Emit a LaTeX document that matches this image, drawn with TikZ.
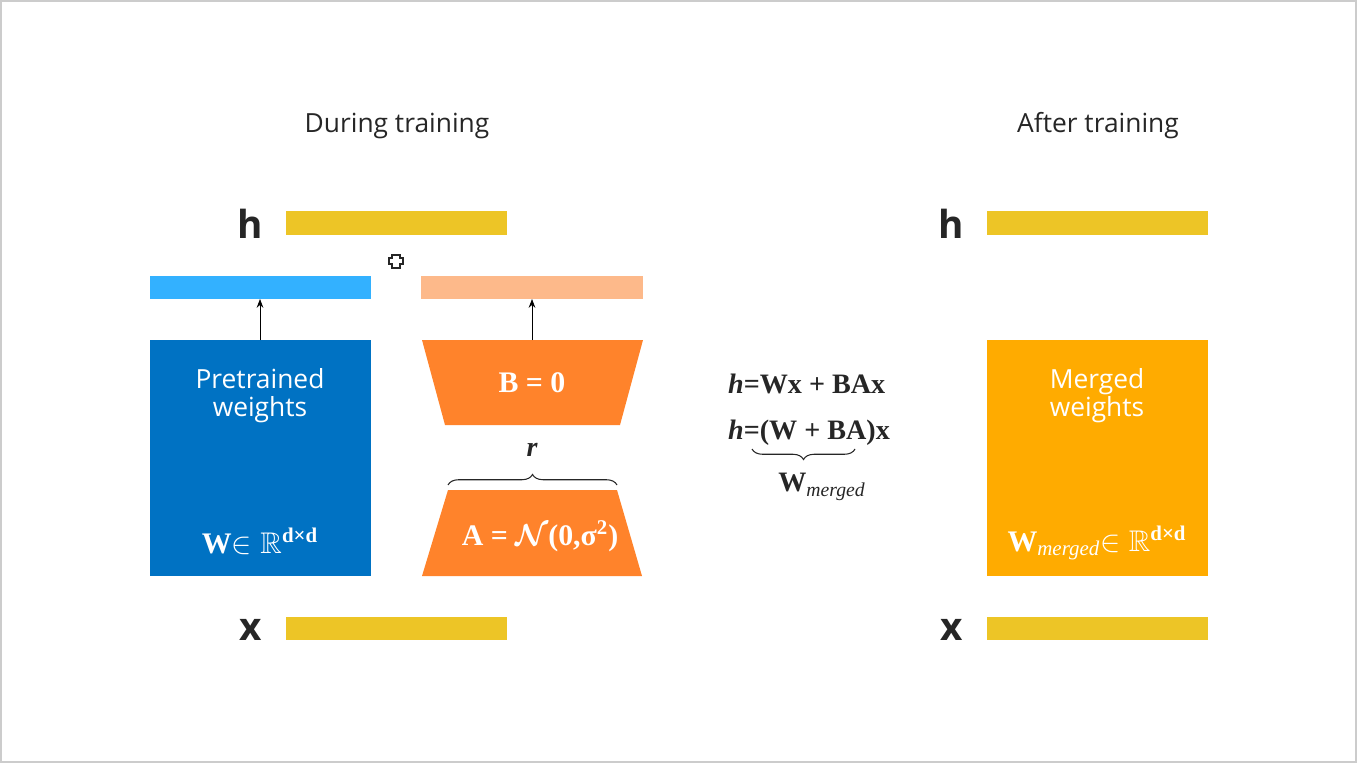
\documentclass[tikz,border=0pt]{standalone}
\usepackage{amsmath,amssymb,bm}
\usepackage{fontspec}
\setmainfont{Open Sans}
\newfontfamily\sfb{Liberation Serif}
\usetikzlibrary{decorations.pathreplacing,arrows.meta}
\definecolor{hbarcol}{HTML}{EDC526}
\definecolor{lblue}{HTML}{33B1FF}
\definecolor{dblue}{HTML}{0072C3}
\definecolor{peach}{HTML}{FDB98A}
\definecolor{orng}{HTML}{FF832B}
\definecolor{gold}{HTML}{FFAB00}
\definecolor{txt}{HTML}{262626}
\begin{document}
\begin{tikzpicture}[x=0.02cm,y=-0.02cm,
  title/.style={font=\fontsize{15}{18}\selectfont,text=txt},
  lbl/.style={font=\fontsize{22}{24}\selectfont\bfseries,text=txt},
  wtxt/.style={text=white,font=\fontsize{15}{16}\selectfont,align=center},
  frm/.style={text=txt,font=\sfb\bfseries\fontsize{16}{17}\selectfont}]
\useasboundingbox (0,0) rectangle (1358,763);
\draw[gray!40,line width=0.6pt] (1,1) rectangle (1356,762);
\node[title] (t1) at (397,126) {During training};
\node[title] (t2) at (1098,126) {After training};
% left
\node[lbl] (h1) at (250,224) {h};
\fill[hbarcol] (286,211) rectangle (507,235);
\node[lbl] (x1) at (251,630) {x};
\fill[hbarcol] (286,617) rectangle (507,640);
\node[draw=txt,line width=0.6pt,minimum size=0pt,inner sep=0pt] (plus) at (396,261) {};
\draw[txt,line width=0.7pt] (392,255) -- (400,255) -- (400,258) -- (403,258) -- (403,264) -- (400,264) -- (400,268) -- (392,268) -- (392,264) -- (389,264) -- (389,258) -- (392,258) -- cycle;
\fill[lblue] (150,276) rectangle (371,299);
\fill[dblue] (150,340) rectangle (371,576);
\coordinate (pa) at (260,340); \coordinate (pb) at (260,299);
\draw[-{Stealth[length=5pt]},black] (pa) -- (pb);
\node[wtxt] (pw) at (260,396) {Pretrained\\weights};
\node[wtxt,font=\sfb\bfseries\fontsize{17}{17}\selectfont] (wd) at (260,541) {W$\in\mathbb{R}$\textsuperscript{d×d}};
\fill[peach] (421,276) rectangle (643,299);
\fill[orng] (422,340) -- (643,340) -- (620,425) -- (445,425) -- cycle;
\coordinate (qa) at (532,340); \coordinate (qb) at (532,299);
\draw[-{Stealth[length=5pt]},black] (qa) -- (qb);
\node[wtxt,font=\sfb\bfseries\fontsize{17}{17}\selectfont] (B) at (532,383) {B = 0};
\draw[decorate,decoration={brace,amplitude=6pt},line width=0.6pt,txt] (448,485) -- (617,485);
\node[frm] (r) at (532,450) {\itshape r};
\fill[orng] (448,490) -- (617,490) -- (642,576) -- (422,576) -- cycle;
\node[wtxt,font=\sfb\bfseries\fontsize{17}{17}\selectfont] (A) at (540,536) {A = $\bm{\mathcal{N}}$(0,σ\textsuperscript{2})};
% formulas
\node[frm,anchor=west] (f1) at (722,384) {\itshape h\upshape=Wx + BAx};
\node[frm,anchor=west] (f2) at (722,433) {\itshape h\upshape=(W + BA)x};
\draw[decorate,decoration={brace,amplitude=6pt,mirror},line width=0.6pt,txt] (752,449) -- (855,449);
\node[frm] (wm) at (822,487) {W\textsubscript{\itshape\mdseries merged}};
% right
\node[lbl] (h2) at (951,224) {h};
\fill[hbarcol] (987,211) rectangle (1208,235);
\fill[gold] (987,340) rectangle (1208,576);
\node[wtxt] (mw) at (1097,396) {Merged\\weights};
\node[wtxt,font=\sfb\bfseries\fontsize{17}{17}\selectfont] (wm2) at (1097,543) {W\textsubscript{\itshape\mdseries merged}$\in\mathbb{R}$\textsuperscript{d×d}};
\node[lbl] (x2) at (952,630) {x};
\fill[hbarcol] (987,617) rectangle (1208,640);
\end{tikzpicture}
\end{document}
